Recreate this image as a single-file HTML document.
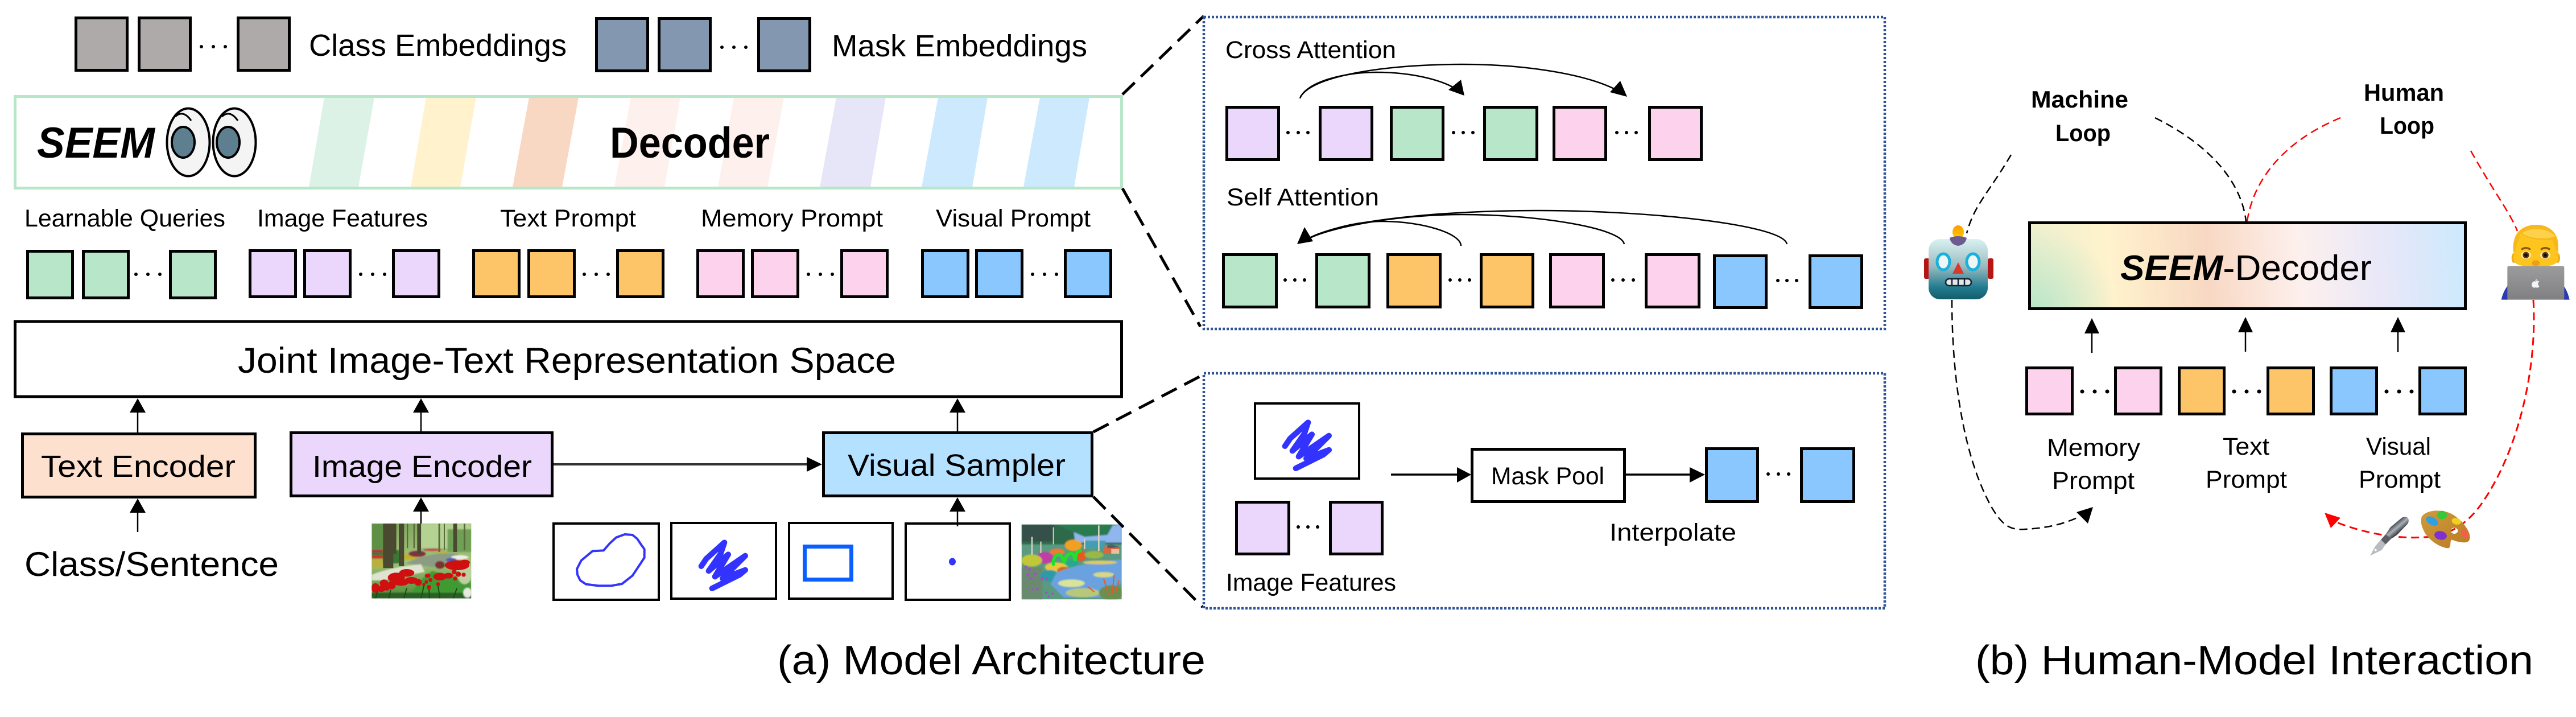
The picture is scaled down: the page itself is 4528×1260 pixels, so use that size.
<!DOCTYPE html>
<html lang="en">
<head>
<meta charset="utf-8">
<title>SEEM diagram</title>
<style>
html,body{margin:0;padding:0;background:#fff;}
svg{display:block;}
text{font-family:"Liberation Sans",sans-serif;fill:#000;}
.b{font-weight:bold;}
.s{stroke:#000;stroke-width:5;}
.gr{fill:#aeaaaa}.mk{fill:#8497b0}.g{fill:#b8e6c8}.p{fill:#ead7fb}.o{fill:#fdc568}.k{fill:#fdd2ec}.l{fill:#89c7fe}
</style>
</head>
<body>
<svg xmlns="http://www.w3.org/2000/svg" width="4528" height="1260" viewBox="0 0 4528 1260">
<defs>
<linearGradient id="dec" gradientUnits="userSpaceOnUse" x1="3565" y1="500" x2="4336" y2="450">
<stop offset="0" stop-color="#eef0cf"/><stop offset=".19" stop-color="#fff2cc"/><stop offset=".41" stop-color="#f8d8c3"/><stop offset=".62" stop-color="#fdf0ed"/><stop offset=".8" stop-color="#e9e8f8"/><stop offset="1" stop-color="#cce9fd"/>
</linearGradient>
<radialGradient id="decg" gradientUnits="userSpaceOnUse" cx="3570" cy="545" r="150">
<stop offset="0" stop-color="#b8e6c8" stop-opacity="1"/><stop offset="1" stop-color="#b8e6c8" stop-opacity="0"/>
</radialGradient>
<linearGradient id="rob" x1="0" y1="0" x2="0" y2="1"><stop offset="0" stop-color="#d9f2f2"/><stop offset=".45" stop-color="#9dbcc0"/><stop offset=".8" stop-color="#227c90"/><stop offset="1" stop-color="#145c6c"/></linearGradient>
<linearGradient id="bulb" x1="0" y1="0" x2="0" y2="1"><stop offset="0" stop-color="#ff9a00"/><stop offset="1" stop-color="#ffd000"/></linearGradient>
<linearGradient id="pen" gradientUnits="userSpaceOnUse" x1="170" y1="105" x2="208" y2="150"><stop offset="0" stop-color="#33373d"/><stop offset=".5" stop-color="#aab0b8"/><stop offset="1" stop-color="#2b2f36"/></linearGradient>
<linearGradient id="wood" x1="0" y1="0" x2="1" y2="1"><stop offset="0" stop-color="#d09a3c"/><stop offset="1" stop-color="#b97c24"/></linearGradient>
<linearGradient id="lap" x1="0" y1="0" x2="0" y2="1"><stop offset="0" stop-color="#9c9c9e"/><stop offset="1" stop-color="#808082"/></linearGradient>
<linearGradient id="woods" x1="0" y1="0" x2="0" y2="1"><stop offset="0" stop-color="#7fa85e"/><stop offset=".5" stop-color="#a4c27c"/><stop offset="1" stop-color="#4f8a34"/></linearGradient>
<clipPath id="c1"><rect x="40" y="30" width="525" height="395"/></clipPath>
<clipPath id="c2"><rect x="17" y="35" width="528" height="395"/></clipPath>
<filter id="bl" x="-5%" y="-5%" width="110%" height="110%"><feGaussianBlur stdDeviation="3"/></filter>
</defs>

<!-- Embedding legend -->
<g class="s">
<rect class="gr" x="133.500" y="31.500" width="90" height="92"/><rect class="gr" x="244.500" y="31.500" width="90" height="92"/><rect class="gr" x="418.500" y="31.500" width="90" height="92"/>
<rect class="mk" x="1048.500" y="32.500" width="90" height="92"/><rect class="mk" x="1158.500" y="32.500" width="90" height="92"/><rect class="mk" x="1333.500" y="32.500" width="90" height="92"/>
</g>
<g fill="#000">
<circle cx="354" cy="82" r="3"/><circle cx="375" cy="82" r="3"/><circle cx="396" cy="82" r="3"/>
<circle cx="1269" cy="83" r="3"/><circle cx="1290" cy="83" r="3"/><circle cx="1311" cy="83" r="3"/>
</g>
<text x="543" y="98" font-size="54" textLength="453" lengthAdjust="spacingAndGlyphs">Class Embeddings</text>
<text x="1462" y="99" font-size="54" textLength="449" lengthAdjust="spacingAndGlyphs">Mask Embeddings</text>

<!-- Decoder band -->
<g>
<polygon points="570,171 658,171 630,329 543,329" fill="#dcf2e6"/>
<polygon points="749,171 837,171 809,329 722,329" fill="#fff2cc"/>
<polygon points="930,171 1017,171 988,329 901,329" fill="#f8d8c3"/>
<polygon points="1109,171 1196,171 1168,329 1080,329" fill="#fdf0ed"/>
<polygon points="1290,171 1378,171 1349,329 1262,329" fill="#fdf0ed"/>
<polygon points="1470,171 1557,171 1530,329 1441,329" fill="#e6e6f8"/>
<polygon points="1649,171 1736,171 1709,329 1620,329" fill="#cce9fd"/>
<polygon points="1828,171 1915,171 1888,329 1799,329" fill="#cce9fd"/>
</g>
<rect x="26.500" y="169.500" width="1945" height="161" fill="none" stroke="#b8e6c8" stroke-width="5"/>
<text class="b" x="65" y="277" font-size="76" font-style="italic" textLength="207" lengthAdjust="spacingAndGlyphs">SEEM</text>
<text class="b" x="1072" y="277" font-size="76" textLength="281" lengthAdjust="spacingAndGlyphs">Decoder</text>
<!-- eyes -->
<ellipse cx="331" cy="250" rx="37.500" ry="59.500" fill="#f4f4f4" stroke="#000" stroke-width="4"/>
<ellipse cx="412" cy="250" rx="37.500" ry="59.500" fill="#f4f4f4" stroke="#000" stroke-width="4"/>
<ellipse cx="322" cy="250" rx="20" ry="27" fill="#5e7f90" stroke="#000" stroke-width="4"/>
<ellipse cx="401" cy="250" rx="20" ry="27" fill="#5e7f90" stroke="#000" stroke-width="4"/>
<path d="M308 205Q322 192 336 212M390 205Q404 192 418 212" fill="none" stroke="#000" stroke-width="3"/>

<!-- Row labels -->
<g font-size="43">
<text x="43" y="398" textLength="353" lengthAdjust="spacingAndGlyphs">Learnable Queries</text>
<text x="452" y="398" textLength="300" lengthAdjust="spacingAndGlyphs">Image Features</text>
<text x="879" y="398" textLength="239" lengthAdjust="spacingAndGlyphs">Text Prompt</text>
<text x="1232" y="398" textLength="320" lengthAdjust="spacingAndGlyphs">Memory Prompt</text>
<text x="1645" y="398" textLength="272" lengthAdjust="spacingAndGlyphs">Visual Prompt</text>
</g>

<!-- Token row -->
<g class="s">
<rect class="g" x="48.500" y="441.500" width="79" height="82"/><rect class="g" x="146.500" y="441.500" width="79" height="82"/><rect class="g" x="299.500" y="441.500" width="79" height="82"/>
<rect class="p" x="439.500" y="440.500" width="80" height="81"/><rect class="p" x="535.500" y="440.500" width="80" height="81"/><rect class="p" x="691.500" y="440.500" width="80" height="81"/>
<rect class="o" x="832.500" y="440.500" width="80" height="81"/><rect class="o" x="929.500" y="440.500" width="80" height="81"/><rect class="o" x="1085.500" y="440.500" width="80" height="81"/>
<rect class="k" x="1226.500" y="440.500" width="80" height="81"/><rect class="k" x="1322.500" y="440.500" width="80" height="81"/><rect class="k" x="1479.500" y="440.500" width="80" height="81"/>
<rect class="l" x="1621.500" y="440.500" width="80" height="81"/><rect class="l" x="1716.500" y="440.500" width="80" height="81"/><rect class="l" x="1872.500" y="440.500" width="80" height="81"/>
</g>
<g fill="#000">
<circle cx="239" cy="482" r="3"/><circle cx="260" cy="482" r="3"/><circle cx="281" cy="482" r="3"/>
<circle cx="634" cy="482" r="3"/><circle cx="655" cy="482" r="3"/><circle cx="676" cy="482" r="3"/>
<circle cx="1027" cy="482" r="3"/><circle cx="1048" cy="482" r="3"/><circle cx="1069" cy="482" r="3"/>
<circle cx="1421" cy="482" r="3"/><circle cx="1442" cy="482" r="3"/><circle cx="1463" cy="482" r="3"/>
<circle cx="1815" cy="482" r="3"/><circle cx="1836" cy="482" r="3"/><circle cx="1857" cy="482" r="3"/>
</g>

<!-- Joint space -->
<rect x="26.500" y="565" width="1945" height="132" fill="#fff" stroke="#000" stroke-width="5"/>
<text x="418" y="655" font-size="63" textLength="1157" lengthAdjust="spacingAndGlyphs">Joint Image-Text Representation Space</text>

<!-- Encoders -->
<rect x="39.500" y="762.500" width="409" height="111" fill="#fde0cd" stroke="#000" stroke-width="5"/>
<rect x="511.500" y="760.500" width="459" height="111" fill="#ead7fb" stroke="#000" stroke-width="5"/>
<rect x="1447.500" y="760.500" width="472" height="111" fill="#b3e1ff" stroke="#000" stroke-width="5"/>
<g font-size="54">
<text x="72" y="838" textLength="342" lengthAdjust="spacingAndGlyphs">Text Encoder</text>
<text x="549" y="838" textLength="386" lengthAdjust="spacingAndGlyphs">Image Encoder</text>
<text x="1490" y="836" textLength="383" lengthAdjust="spacingAndGlyphs">Visual Sampler</text>
</g>
<text x="43" y="1012" font-size="60" textLength="447" lengthAdjust="spacingAndGlyphs">Class/Sentence</text>

<!-- Vertical arrows -->
<g stroke="#000" stroke-width="2.500">
<line x1="242" y1="760" x2="242" y2="720"/><line x1="740" y1="758" x2="740" y2="720"/><line x1="1683" y1="758" x2="1683" y2="720"/>
<line x1="242" y1="935" x2="242" y2="895"/><line x1="740" y1="920" x2="740" y2="895"/><line x1="1683" y1="918" x2="1683" y2="895"/>
</g>
<g fill="#000">
<polygon points="242,700 256,725 228,725"/><polygon points="740,700 754,725 726,725"/><polygon points="1683,700 1697,725 1669,725"/>
<polygon points="242,876 256,901 228,901"/><polygon points="740,874 754,899 726,899"/><polygon points="1683,874 1697,899 1669,899"/>
</g>
<line x1="973" y1="816" x2="1420" y2="816" stroke="#333" stroke-width="4"/>
<polygon points="1445,816 1418,803 1418,829" fill="#000"/>

<!-- Flower photo -->
<g transform="translate(640,910) scale(.33333)" clip-path="url(#c1)">
<rect x="40" y="30" width="525" height="395" fill="url(#woods)"/>
<g filter="url(#bl)">
<rect x="40" y="30" width="120" height="170" fill="#5f8f44"/>
<rect x="300" y="30" width="265" height="130" fill="#b4d292"/>
<rect x="440" y="60" width="125" height="120" fill="#6f9f56"/>
<rect x="40" y="170" width="160" height="70" fill="#3a7636"/>
<rect x="40" y="168" width="60" height="14" fill="#b03040"/>
<rect x="40" y="198" width="60" height="16" fill="#c83030"/>
<rect x="40" y="215" width="60" height="50" fill="#b8b040"/>
<ellipse cx="240" cy="205" rx="50" ry="15" fill="#c2b02c"/>
<ellipse cx="280" cy="190" rx="45" ry="16" fill="#803040"/>
<path d="M220 240Q340 175 500 190L470 240Q400 250 360 260L260 245Z" fill="#8c9c84"/>
<ellipse cx="360" cy="168" rx="50" ry="7" fill="#c05050"/>
<ellipse cx="410" cy="182" rx="30" ry="8" fill="#b8b040"/>
<ellipse cx="505" cy="208" rx="45" ry="11" fill="#eef0e8"/>
<ellipse cx="460" cy="222" rx="28" ry="11" fill="#5058b8"/>
<path d="M40 300Q140 260 300 245L320 285L100 330L40 330Z" fill="#dfe4d2"/>
<path d="M240 420Q280 330 360 280L560 340L560 425Z" fill="#3f9a30"/>
<rect x="40" y="395" width="525" height="30" fill="#2a5f26"/>
<ellipse cx="400" cy="248" rx="26" ry="20" fill="#7a3030"/>
<ellipse cx="530" cy="290" rx="40" ry="60" fill="#bcd0a0"/>
<ellipse cx="545" cy="395" rx="22" ry="26" fill="#e8ebe0"/>
</g>
<g fill="#4a4a30">
<rect x="100" y="30" width="54" height="235"/><rect x="183" y="30" width="28" height="225"/><rect x="280" y="30" width="20" height="160"/><rect x="152" y="30" width="18" height="160"/><rect x="470" y="30" width="20" height="150"/>
</g>
<g fill="#5a6a3a"><rect x="225" y="30" width="7" height="130"/><rect x="260" y="30" width="7" height="130"/><rect x="392" y="30" width="9" height="150"/><rect x="420" y="30" width="6" height="140"/><rect x="525" y="30" width="9" height="140"/></g>
<g fill="#d01010">
<ellipse cx="60" cy="370" rx="22" ry="25"/><ellipse cx="105" cy="345" rx="22" ry="20"/><ellipse cx="145" cy="355" rx="22" ry="22"/><ellipse cx="90" cy="375" rx="22" ry="16"/><ellipse cx="120" cy="372" rx="14" ry="12"/>
<ellipse cx="170" cy="315" rx="45" ry="26"/><ellipse cx="225" cy="290" rx="40" ry="20"/><ellipse cx="195" cy="340" rx="40" ry="18"/><ellipse cx="250" cy="330" rx="35" ry="18"/><ellipse cx="285" cy="340" rx="20" ry="18"/>
<ellipse cx="335" cy="305" rx="15" ry="11"/><ellipse cx="350" cy="328" rx="10" ry="11"/><ellipse cx="328" cy="338" rx="9" ry="10"/><ellipse cx="315" cy="352" rx="8" ry="9"/><ellipse cx="342" cy="366" rx="11" ry="12"/>
<ellipse cx="390" cy="350" rx="10" ry="11"/><ellipse cx="400" cy="310" rx="35" ry="20"/><ellipse cx="445" cy="305" rx="25" ry="15"/><ellipse cx="497" cy="297" rx="14" ry="14"/><ellipse cx="525" cy="300" rx="11" ry="11"/><ellipse cx="480" cy="320" rx="11" ry="11"/>
<ellipse cx="490" cy="250" rx="65" ry="26"/><ellipse cx="530" cy="235" rx="28" ry="14"/><ellipse cx="475" cy="285" rx="12" ry="12"/>
</g>
<g stroke="#1d4a1c" stroke-width="6"><path d="M60 425L72 385M130 425L140 380M210 425L225 370M300 425L315 360M345 425L342 375M400 425L390 360M470 425L490 370" fill="none"/></g>
</g>

<!-- Visual prompt boxes -->
<g fill="#fff" stroke="#000" stroke-width="4">
<rect x="973" y="920" width="185" height="134"/><rect x="1180" y="919" width="184" height="133"/><rect x="1387" y="919" width="182" height="133"/><rect x="1592" y="920" width="183" height="134"/>
</g>
<g transform="translate(965,910) scale(.33333)" fill="none" stroke="#3333ff" stroke-linejoin="round" stroke-linecap="round">
<path d="M400 87L440 90L465 110L485 140L503 165L503 210L470 260L440 305L385 348L330 358L260 358L195 350L165 330L150 300L147 270L170 225L230 175L288 172L320 135L355 103Z" stroke-width="12"/>
<path d="M803 255L830 215L925 130L905 190L842 280L945 193L875 310L1035 200L915 320L1035 275L1005 300L860 372" stroke-width="30"/>
</g>
<rect x="1414.500" y="960.500" width="82" height="58" fill="none" stroke="#0a5fff" stroke-width="7"/>
<ellipse cx="1674" cy="987" rx="6" ry="6.500" fill="#3333ff"/>
<line x1="1683" y1="918" x2="1683" y2="925" stroke="#000" stroke-width="2.500"/>

<!-- Painting -->
<g transform="translate(1790,910) scale(.33333)" clip-path="url(#c2)">
<rect x="17" y="35" width="528" height="395" fill="#5a9a80"/>
<g filter="url(#bl)">
<rect x="17" y="35" width="530" height="105" fill="#2f6a48"/>
<path d="M290 60L545 35L545 130L300 130Z" fill="#8fb6ef"/>
<path d="M200 35L500 35L470 90L350 100L280 70Z" fill="#2c7a50"/>
<rect x="17" y="35" width="170" height="90" fill="#34504a"/>
<rect x="350" y="120" width="110" height="40" fill="#3f9fb0"/>
<ellipse cx="290" cy="145" rx="45" ry="30" fill="#f2a024"/>
<ellipse cx="140" cy="210" rx="45" ry="30" fill="#c03ca8"/>
<ellipse cx="70" cy="225" rx="55" ry="32" fill="#c0c838"/>
<ellipse cx="205" cy="180" rx="40" ry="18" fill="#f07838"/>
<ellipse cx="200" cy="260" rx="60" ry="25" fill="#e8c83c"/>
<ellipse cx="240" cy="278" rx="35" ry="20" fill="#c86a20"/>
<ellipse cx="280" cy="240" rx="35" ry="18" fill="#28a890"/>
<ellipse cx="330" cy="200" rx="28" ry="28" fill="#e85820"/>
<ellipse cx="400" cy="195" rx="50" ry="20" fill="#98b848"/>
<rect x="17" y="260" width="110" height="170" fill="#6a8a70"/>
<ellipse cx="165" cy="305" rx="50" ry="30" fill="#2f9aa8"/>
<path d="M200 290Q340 230 545 220L545 340L440 420L240 420L170 350Z" fill="#6aa2e0"/>
<ellipse cx="280" cy="345" rx="70" ry="20" fill="#d8e498"/>
<ellipse cx="340" cy="395" rx="90" ry="24" fill="#b8c878"/>
<ellipse cx="430" cy="235" rx="90" ry="10" fill="#e0c868"/>
<ellipse cx="450" cy="300" rx="55" ry="14" fill="#d8d880"/>
<ellipse cx="490" cy="395" rx="65" ry="40" fill="#6a9050"/>
</g>
<g fill="#d8d0c0"><rect x="68" y="100" width="8" height="95"/><rect x="115" y="125" width="7" height="60"/><rect x="345" y="110" width="8" height="55"/><rect x="420" y="40" width="8" height="135"/><rect x="182" y="50" width="6" height="90"/></g>
<polygon points="447,155 470,145 535,160 535,190 447,190" fill="#d86840"/>
<polygon points="470,145 490,140 535,155 470,160" fill="#505a70"/>
<rect x="490" y="165" width="42" height="24" fill="#e8c0a0"/>
<g fill="#a050c8">
<circle cx="40" cy="260" r="8"/><circle cx="60" cy="272" r="8"/><circle cx="50" cy="300" r="8"/><circle cx="90" cy="295" r="7"/><circle cx="70" cy="320" r="7"/><circle cx="125" cy="322" r="8"/><circle cx="150" cy="320" r="7"/><circle cx="100" cy="375" r="7"/><circle cx="75" cy="378" r="6"/><circle cx="148" cy="395" r="7"/><circle cx="160" cy="415" r="6"/><circle cx="180" cy="400" r="6"/>
</g>
<g stroke="#e85828" stroke-width="6" fill="none"><path d="M475 405L450 320M495 400L505 300M510 400L530 330M400 390L365 362"/></g>
<path d="M185 245C180 215 200 185 220 195C240 210 235 240 245 230C250 200 265 185 285 190C300 200 295 225 300 220C300 190 310 180 325 175" fill="none" stroke="#1fe02a" stroke-width="17" stroke-linecap="round" stroke-linejoin="round"/>
</g>

<!-- Zoom dashed guide lines -->
<g stroke="#000" stroke-width="5" stroke-dasharray="30 15" fill="none">
<line x1="1973" y1="166" x2="2116" y2="28"/>
<line x1="1973" y1="331" x2="2110" y2="574"/>
<line x1="1922" y1="759" x2="2114" y2="659"/>
<line x1="1922" y1="873" x2="2114" y2="1067"/>
</g>

<!-- Dotted panels -->
<g fill="none" stroke="#2f5597" stroke-width="4.500" stroke-dasharray="4 3">
<rect x="2116" y="30" width="1197" height="548"/>
<rect x="2116" y="656" width="1197" height="413"/>
</g>

<!-- Cross / Self attention -->
<g font-size="43">
<text x="2154" y="102" textLength="300" lengthAdjust="spacingAndGlyphs">Cross Attention</text>
<text x="2156" y="361" textLength="268" lengthAdjust="spacingAndGlyphs">Self Attention</text>
</g>
<g class="s">
<rect class="p" x="2156.500" y="188.500" width="91" height="92"/><rect class="p" x="2320.500" y="188.500" width="91" height="92"/>
<rect class="g" x="2445.500" y="188.500" width="91" height="92"/><rect class="g" x="2609.500" y="188.500" width="92" height="92"/>
<rect class="k" x="2731.500" y="188.500" width="91" height="92"/><rect class="k" x="2899.500" y="188.500" width="91" height="92"/>

<rect class="g" x="2150.500" y="447.500" width="93" height="92"/><rect class="g" x="2314.500" y="447.500" width="92" height="92"/>
<rect class="o" x="2439.500" y="447.500" width="92" height="92"/><rect class="o" x="2603.500" y="447.500" width="91" height="92"/>
<rect class="k" x="2725.500" y="447.500" width="93" height="92"/><rect class="k" x="2893.500" y="447.500" width="93" height="92"/>
<rect class="l" x="3013.500" y="449.500" width="91" height="91"/><rect class="l" x="3181.500" y="449.500" width="91" height="91"/>
</g>
<g fill="#000">
<circle cx="2264" cy="233" r="3"/><circle cx="2282" cy="233" r="3"/><circle cx="2299" cy="233" r="3"/>
<circle cx="2555" cy="233" r="3"/><circle cx="2572" cy="233" r="3"/><circle cx="2589" cy="233" r="3"/>
<circle cx="2842" cy="233" r="3"/><circle cx="2859" cy="233" r="3"/><circle cx="2876" cy="233" r="3"/>
<circle cx="2259" cy="492" r="3"/><circle cx="2276" cy="492" r="3"/><circle cx="2293" cy="492" r="3"/>
<circle cx="2549" cy="492" r="3"/><circle cx="2566" cy="492" r="3"/><circle cx="2583" cy="492" r="3"/>
<circle cx="2835" cy="492" r="3"/><circle cx="2853" cy="492" r="3"/><circle cx="2871" cy="492" r="3"/>
<circle cx="3125" cy="493" r="3"/><circle cx="3141" cy="493" r="3"/><circle cx="3158" cy="493" r="3"/>
</g>
<g fill="none" stroke="#000" stroke-width="2.500">
<path d="M2285 173C2295 145 2360 127 2420 127C2480 127 2535 140 2562 158"/>
<path d="M2286 170C2310 130 2450 113 2570 113C2680 113 2790 130 2845 160"/>
<path d="M2568 432C2568 410 2500 389 2430 389C2380 389 2330 405 2298 420"/>
<path d="M2855 429C2850 400 2700 377 2570 377C2470 377 2350 395 2298 420"/>
<path d="M3141 429C3135 395 2900 370 2704 370C2550 370 2360 385 2298 420"/>
</g>
<g fill="#000">
<polygon points="2574,168 2568,140 2546,158"/>
<polygon points="2860,170 2848,142 2830,162"/>
<polygon points="2280,429 2293,399 2308,424"/>
</g>

<!-- Mask pool panel -->
<rect x="2206" y="709" width="183" height="132" fill="#fff" stroke="#000" stroke-width="4"/>
<g transform="translate(1991,699) scale(.33333)">
<path d="M803 255L830 215L925 130L905 190L842 280L945 193L875 310L1035 200L915 320L1035 275L1005 300L860 372" fill="none" stroke="#3333ff" stroke-width="30" stroke-linejoin="round" stroke-linecap="round"/>
</g>
<g class="s">
<rect class="p" x="2173.500" y="882.500" width="92" height="91"/><rect class="p" x="2338.500" y="882.500" width="91" height="91"/>
<rect class="l" x="2999.500" y="788.500" width="90" height="93"/><rect class="l" x="3166.500" y="788.500" width="92" height="93"/>
</g>
<g fill="#000">
<circle cx="2282" cy="926" r="3"/><circle cx="2299" cy="926" r="3"/><circle cx="2316" cy="926" r="3"/>
<circle cx="3108" cy="833" r="3"/><circle cx="3126" cy="833" r="3"/><circle cx="3144" cy="833" r="3"/>
</g>
<rect x="2587.500" y="789.500" width="268" height="92" fill="#fff" stroke="#000" stroke-width="5"/>
<line x1="2445" y1="834" x2="2565" y2="834" stroke="#000" stroke-width="3.500"/>
<polygon points="2586,834 2561,821 2561,848" fill="#000"/>
<line x1="2858" y1="834" x2="2975" y2="834" stroke="#000" stroke-width="3.500"/>
<polygon points="2997,834 2970,821 2970,848" fill="#000"/>
<g font-size="43">
<text x="2621" y="851" textLength="199" lengthAdjust="spacingAndGlyphs">Mask Pool</text>
<text x="2829" y="950" textLength="223" lengthAdjust="spacingAndGlyphs">Interpolate</text>
<text x="2155" y="1038" textLength="299" lengthAdjust="spacingAndGlyphs">Image Features</text>
</g>

<!-- Captions -->
<text x="1366" y="1185" font-size="72" textLength="753" lengthAdjust="spacingAndGlyphs">(a) Model Architecture</text>
<text x="3472" y="1185" font-size="72" textLength="981" lengthAdjust="spacingAndGlyphs">(b) Human-Model Interaction</text>

<!-- Interaction: loops -->
<g fill="none" stroke-width="2.500" stroke-dasharray="14 8">
<path d="M3535 272C3495 340 3470 360 3457 410" stroke="#000"/>
<path d="M3431 527C3431 640 3445 790 3500 890C3520 925 3535 932 3560 930C3600 928 3630 920 3655 908" stroke="#000"/>
<path d="M3788 207C3885 255 3940 320 3948 389" stroke="#000"/>
<path d="M4114 207C4010 250 3960 320 3950 389" stroke="#f00"/>
<path d="M4343 265C4385 340 4410 370 4425 406" stroke="#f00"/>
</g>
<path d="M4453 527C4460 640 4430 790 4360 888C4340 915 4315 935 4280 942C4230 950 4160 940 4100 915" fill="none" stroke="#f00" stroke-width="3" stroke-dasharray="14 8"/>
<polygon points="3679,891 3650,900 3670,920" fill="#000"/>
<polygon points="4086,901 4114,910 4097,928" fill="#f00"/>

<text class="b" x="3570" y="189" font-size="42" textLength="171" lengthAdjust="spacingAndGlyphs">Machine</text>
<text class="b" x="3613" y="248" font-size="42" textLength="97" lengthAdjust="spacingAndGlyphs">Loop</text>
<text class="b" x="4155" y="177" font-size="42" textLength="141" lengthAdjust="spacingAndGlyphs">Human</text>
<text class="b" x="4183" y="235" font-size="42" textLength="96" lengthAdjust="spacingAndGlyphs">Loop</text>

<!-- SEEM-Decoder -->
<rect x="3567.500" y="391.500" width="766" height="151" fill="url(#dec)"/>
<rect x="3567.500" y="391.500" width="200" height="151" fill="url(#decg)"/>
<rect x="3567.500" y="391.500" width="766" height="151" fill="none" stroke="#000" stroke-width="5"/>
<text x="3727" y="492" font-size="62" textLength="442" lengthAdjust="spacingAndGlyphs"><tspan class="b" font-style="italic">SEEM</tspan>-Decoder</text>

<g stroke="#000" stroke-width="2.500">
<line x1="3677" y1="620" x2="3677" y2="580"/><line x1="3947" y1="618" x2="3947" y2="580"/><line x1="4215" y1="619" x2="4215" y2="580"/>
</g>
<g fill="#000">
<polygon points="3677,559 3690,586 3664,586"/><polygon points="3947,557 3960,584 3934,584"/><polygon points="4215,557 4228,584 4202,584"/>
</g>

<g class="s">
<rect class="k" x="3562.500" y="646.500" width="80" height="81"/><rect class="k" x="3718.500" y="646.500" width="80" height="81"/>
<rect class="o" x="3830.500" y="646.500" width="79" height="81"/><rect class="o" x="3986.500" y="646.500" width="80" height="81"/>
<rect class="l" x="4097.500" y="646.500" width="80" height="81"/><rect class="l" x="4253.500" y="646.500" width="80" height="81"/>
</g>
<g fill="#000">
<circle cx="3660" cy="688" r="3.500"/><circle cx="3682" cy="688" r="3.500"/><circle cx="3704" cy="688" r="3.500"/>
<circle cx="3927" cy="688" r="3.500"/><circle cx="3949" cy="688" r="3.500"/><circle cx="3971" cy="688" r="3.500"/>
<circle cx="4195" cy="688" r="3.500"/><circle cx="4217" cy="688" r="3.500"/><circle cx="4239" cy="688" r="3.500"/>
</g>
<g font-size="43">
<text x="3598" y="801" textLength="164" lengthAdjust="spacingAndGlyphs">Memory</text>
<text x="3607" y="859" textLength="145" lengthAdjust="spacingAndGlyphs">Prompt</text>
<text x="3907" y="799" textLength="82" lengthAdjust="spacingAndGlyphs">Text</text>
<text x="3877" y="857" textLength="143" lengthAdjust="spacingAndGlyphs">Prompt</text>
<text x="4159" y="799" textLength="114" lengthAdjust="spacingAndGlyphs">Visual</text>
<text x="4146" y="857" textLength="144" lengthAdjust="spacingAndGlyphs">Prompt</text>
</g>

<!-- Robot -->
<g>
<rect x="3382" y="454" width="10" height="36" rx="3" fill="#b81414"/>
<rect x="3494" y="454" width="10" height="36" rx="3" fill="#b81414"/>
<rect x="3390" y="420" width="104" height="106" rx="20" fill="url(#rob)"/>
<ellipse cx="3442" cy="408" rx="10" ry="12" fill="url(#bulb)"/>
<path d="M3427 418Q3442 412 3457 418Q3455 430 3442 432Q3429 430 3427 418Z" fill="#6d5a8e"/>
<ellipse cx="3416" cy="460" rx="11" ry="14" fill="#eef6f6" stroke="#18b0dc" stroke-width="5"/>
<ellipse cx="3468" cy="460" rx="11" ry="14" fill="#eef6f6" stroke="#18b0dc" stroke-width="5"/>
<polygon points="3442,461 3432,481 3452,481" fill="#d9382e"/>
<rect x="3420" y="490" width="45" height="12" rx="6" fill="#e6e6e6" stroke="#123" stroke-width="2.500"/>
<path d="M3431 490V502M3442 490V502M3453 490V502" stroke="#123" stroke-width="2.500"/>
</g>

<!-- Human with laptop -->
<g transform="translate(4380,385) scale(.33333)">
<path d="M50 425Q60 380 85 350L85 425Z" fill="#2a3cb0"/>
<path d="M410 425Q400 380 378 350L378 425Z" fill="#2a3cb0"/>
<ellipse cx="116" cy="205" rx="12" ry="26" fill="#f0ac16"/>
<ellipse cx="348" cy="205" rx="12" ry="26" fill="#f0ac16"/>
<path d="M118 120C120 60 180 30 232 30C300 30 348 70 350 130L350 210C345 240 320 250 232 250C145 250 118 240 114 210Z" fill="#fdc51e"/>
<path d="M113 170C105 70 170 30 235 30C310 30 355 80 350 170L335 160L320 110C250 115 190 105 150 75C150 105 125 130 125 175Z" fill="#f6b81c"/>
<path d="M160 75C190 45 290 40 335 90C290 110 200 105 160 75Z" fill="#fdd24a"/>
<path d="M160 158Q180 146 200 158M262 158Q282 146 303 158" fill="none" stroke="#8a5a10" stroke-width="10" stroke-linecap="round"/>
<ellipse cx="180" cy="190" rx="27" ry="20" fill="#fde9a8"/>
<ellipse cx="282" cy="190" rx="27" ry="20" fill="#fde9a8"/>
<circle cx="180" cy="190" r="17" fill="#6a3c0a"/><circle cx="282" cy="190" r="17" fill="#6a3c0a"/>
<circle cx="180" cy="190" r="9" fill="#111"/><circle cx="282" cy="190" r="9" fill="#111"/>
<ellipse cx="232" cy="232" rx="21" ry="15" fill="#ee9f16"/>
<rect x="82" y="247" width="300" height="178" rx="8" fill="url(#lap)"/>
<path d="M231 329C243 321 250 329 250 329C240 337 244 352 251 353C246 365 238 362 231 360C224 362 216 365 211 350C208 336 220 324 231 329ZM229 326Q230 318 238 318Q238 326 229 326Z" fill="#f4f4f4"/>
</g>

<!-- Pen and palette -->
<g transform="translate(4150,885) scale(.33333)">
<path d="M48 275L75 225L105 190L130 215L110 245Z" fill="#b8bcc2"/>
<circle cx="77" cy="245" r="6" fill="#fff"/>
<path d="M105 190L130 215L160 185L130 162Z" fill="#5a5e64"/>
<path d="M130 162L160 185L190 165L155 125Z" fill="url(#pen)"/>
<path d="M155 125L215 75Q240 62 250 80Q255 95 245 108L190 165Z" fill="url(#pen)"/>
<path fill-rule="evenodd" d="M320 70C340 35 420 25 480 55C540 90 590 160 570 195C555 215 500 200 480 190C465 195 480 230 460 235C420 235 350 190 330 140C315 110 315 85 320 70ZM492 127C482 127 474 135 474 143C474 152 482 159 492 159C502 159 511 152 511 143C511 135 502 127 492 127Z" fill="url(#wood)"/>
<ellipse cx="375" cy="92" rx="35" ry="20" transform="rotate(30 375 92)" fill="#2f9fe0"/>
<ellipse cx="428" cy="60" rx="26" ry="22" fill="#36c83a"/>
<ellipse cx="503" cy="93" rx="25" ry="17" transform="rotate(15 503 93)" fill="#f2d020"/>
<ellipse cx="548" cy="158" rx="17" ry="27" transform="rotate(-30 548 158)" fill="#f0604a"/>
<ellipse cx="420" cy="168" rx="33" ry="23" transform="rotate(10 420 168)" fill="#8030d0"/>
</g>
</svg>
</body>
</html>
